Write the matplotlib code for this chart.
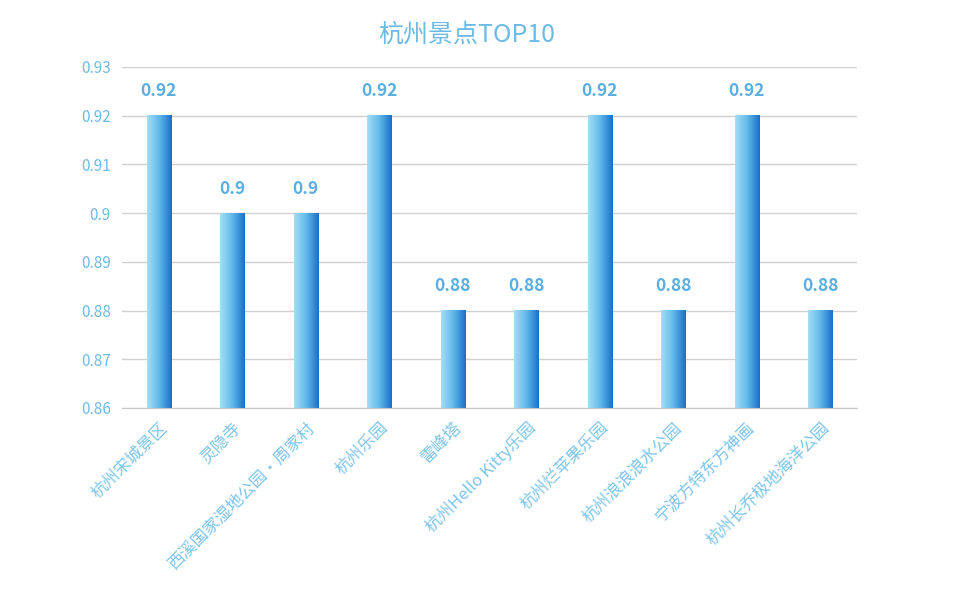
import matplotlib.pyplot as plt
import numpy as np
from matplotlib.colors import LinearSegmentedColormap

plt.rcParams['font.family'] = ['Noto Sans CJK SC', 'DejaVu Sans']

spots = ['杭州宋城景区', '灵隐寺', '西溪国家湿地公园·周家村', '杭州乐园', '雷峰塔',
         '杭州Hello Kitty乐园', '杭州烂苹果乐园', '杭州浪浪浪水公园', '宁波方特东方神画', '杭州长乔极地海洋公园']
scores = [0.92, 0.9, 0.9, 0.92, 0.88, 0.88, 0.92, 0.88, 0.92, 0.88]
labels = ['0.92', '0.9', '0.9', '0.92', '0.88', '0.88', '0.92', '0.88', '0.92', '0.88']

cmap = LinearSegmentedColormap.from_list('g', ['#a6def5', '#5fb8ea', '#1a6fc8'])
grad = np.linspace(0, 1, 64).reshape(1, -1)

fig = plt.figure(figsize=(9.63, 5.98), dpi=100)
ax = fig.add_axes([122/963, 1-408/598, (857-122)/963, (408-67)/598])

x = np.arange(len(spots))
w = 0.33
bars = ax.bar(x, scores, width=w, color='none', zorder=2)
for b in bars:
    x0 = b.get_x()
    ax.imshow(grad, cmap=cmap, aspect='auto', zorder=2,
              extent=(x0, x0 + b.get_width(), 0.86, b.get_height()))
for xi, s, l in zip(x, scores, labels):
    ax.text(xi, s + 0.0032, l, ha='center', va='bottom', fontsize=12.5,
            fontweight='bold', color='#5aaee0')

ax.set_xlim(-0.5, len(spots) - 0.5)
ax.set_ylim(0.86, 0.93)
ax.set_yticks(np.arange(0.86, 0.9301, 0.01))
ax.set_yticklabels(['0.86', '0.87', '0.88', '0.89', '0.9', '0.91', '0.92', '0.93'],
                   color='#6cbbe6', fontsize=11)
ax.set_xticks(x)
ax.set_xticklabels(spots, rotation=45, ha='right', va='top', rotation_mode='anchor',
                   color='#7cc4ea', fontsize=12)
ax.tick_params(length=0, pad=8)
ax.yaxis.grid(True, color='#d0d0d0', linewidth=1, zorder=0)
ax.set_axisbelow(True)
for sp in ['top', 'right', 'left']:
    ax.spines[sp].set_visible(False)
ax.spines['bottom'].set_color('#c8c8c8')

fig.text(467/963, 1-35/598, '杭州景点TOP10', ha='center', va='center',
         fontsize=18, color='#6cbbe6')
fig.savefig('out.png', dpi=100)
